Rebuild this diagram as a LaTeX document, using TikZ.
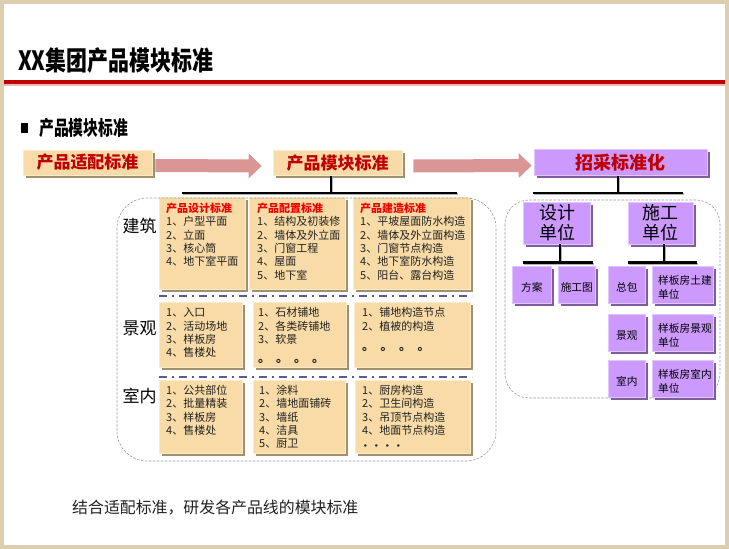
\documentclass[tikz,border=0pt]{standalone}
\usepackage{fontspec}
\setmainfont{Noto Sans CJK SC}
\usepackage{graphicx}
\usetikzlibrary{shadows,arrows.meta}
\definecolor{framec}{HTML}{DDCEB0}
\definecolor{titlered}{HTML}{C00000}
\definecolor{pinkline}{HTML}{EBB8B8}
\definecolor{cellyel}{HTML}{F8DBA6}
\definecolor{cellhi}{HTML}{FCEBCB}
\definecolor{yelsh}{HTML}{A0906E}
\definecolor{purp}{HTML}{CC99FF}
\definecolor{purphi}{HTML}{E2C6FF}
\definecolor{purpsh}{HTML}{7E5F9E}
\definecolor{arrowpink}{HTML}{D99694}
\definecolor{darkred}{HTML}{C00000}
\definecolor{headred}{HTML}{F00000}
\definecolor{sepblue}{HTML}{5B5B91}
\definecolor{txt}{HTML}{222222}
\definecolor{regiongray}{HTML}{9A9A9A}
\newcommand{\bigdots}{{\fontsize{12.5}{12.5}\selectfont\bfseries 。}}
\begin{document}
\begin{tikzpicture}[x=1pt,y=-1pt,
  ybox/.style={fill=cellyel, draw=cellhi, line width=0.6pt, inner sep=0pt,
     drop shadow={shadow xshift=2.5pt, shadow yshift=-2.5pt, fill=yelsh, opacity=1}},
  pbox/.style={fill=purp, draw=purphi, line width=0.6pt, inner sep=0pt,
     drop shadow={shadow xshift=2.5pt, shadow yshift=-2.5pt, fill=purpsh, opacity=1}},
  headbox/.style={ybox, font=\fontsize{17}{17}\selectfont\bfseries, text=darkred},
  cellbox/.style={ybox, anchor=north west},
  sbox/.style={pbox, anchor=north west, minimum height=37pt},
  celltxt/.style={anchor=north west, inner sep=0pt, align=left, text=txt, font=\fontsize{11}{13.3}\selectfont},
  stxt/.style={inner sep=0pt, align=left, text=black, font=\fontsize{10.7}{14}\selectfont},
  bigarrow/.style={draw=arrowpink, line width=13pt, -{Triangle[length=13pt,width=24pt]}},
  conn/.style={line width=2.2pt, draw=black, preaction={draw=gray!60, line width=2.2pt, transform canvas={xshift=1pt, yshift=-1.2pt}}},
  region/.style={draw=regiongray, line width=0.6pt, dash pattern=on 2.5pt off 1.5pt},
  sepline/.style={draw=sepblue, line width=2pt, dash pattern=on 8pt off 5pt on 2pt off 5pt},
  rowlab/.style={inner sep=0pt, font=\fontsize{17}{17}\selectfont, text=black},
]
% frame
\fill[framec] (0,0) rectangle (729,549);
\fill[white] (4,4) rectangle (725,545);
\useasboundingbox (0,0) rectangle (729,549);

% title
\node[anchor=west, inner sep=0pt] (title) at (18,60.5)
  {\scalebox{0.79}[1]{\fontsize{26.5}{26.5}\selectfont\bfseries XX集团产品模块标准}};
\fill[titlered] (4,80) rectangle (725,84);
\fill[pinkline] (4,84) rectangle (725,86);

% subtitle
\fill[black] (21,123) rectangle (28,133);
\node[anchor=west, inner sep=0pt] (sub) at (39,128)
  {\scalebox{0.74}[1]{\fontsize{20}{20}\selectfont\bfseries 产品模块标准}};

% top row
\node[headbox, minimum width=129pt, minimum height=25pt] (adapt) at (87.5,162.5) {产品适配标准};
\node[headbox, minimum width=129pt, minimum height=25pt] (module) at (337.5,163) {产品模块标准};
\node[pbox, font=\fontsize{18}{18}\selectfont\bfseries, text=darkred, minimum width=173pt, minimum height=26pt] (zc) at (620.5,162.5) {招采标准化};

\draw[bigarrow] ([xshift=3pt,yshift=-3pt]adapt.east) -- ([xshift=-11pt,yshift=-3pt]module.west);
\draw[bigarrow] ([xshift=11pt,yshift=-3pt]module.east) -- ([xshift=-2pt,yshift=-3pt]zc.west);

% connector bars
\coordinate (bLl) at (182,193);
\coordinate (bLr) at (457,193);
\coordinate (bLm) at (331,193);
\draw[conn] ([xshift=-6.5pt]module.south) -- (bLm);
\draw[conn] (bLl) -- (bLr);
\coordinate (bRl) at (533,193);
\coordinate (bRr) at (683,193);
\coordinate (bRm) at (618,193);
\draw[conn] ([xshift=-2.5pt]zc.south) -- (bRm);
\draw[conn] (bRl) -- (bRr);

% cells
\node[cellbox, minimum width=86pt, minimum height=92pt] (c11) at (159,197) {};
\node[cellbox, minimum width=96pt, minimum height=92pt] (c12) at (249,197) {};
\node[cellbox, minimum width=117pt, minimum height=92pt] (c13) at (353,197) {};
\node[cellbox, minimum width=83pt, minimum height=65pt] (c21) at (159,302) {};
\node[cellbox, minimum width=93pt, minimum height=65pt] (c22) at (253,302) {};
\node[cellbox, minimum width=116pt, minimum height=65pt] (c23) at (354,302) {};
\node[cellbox, minimum width=83pt, minimum height=73pt] (c31) at (159,380) {};
\node[cellbox, minimum width=92pt, minimum height=73pt] (c32) at (253,380) {};
\node[cellbox, minimum width=115pt, minimum height=73pt] (c33) at (355,380) {};

\node[celltxt] (t11) at (166,203) {\textcolor{headred}{\bfseries 产品设计标准}\\1、户型平面\\2、立面\\3、核心筒\\4、地下室平面};
\node[celltxt] (t12) at (257,203) {\textcolor{headred}{\bfseries 产品配置标准}\\1、结构及初装修\\2、墙体及外立面\\3、门窗工程\\4、屋面\\5、地下室};
\node[celltxt] (t13) at (360,203) {\textcolor{headred}{\bfseries 产品建造标准}\\1、平坡屋面防水构造\\2、墙体及外立面构造\\3、门窗节点构造\\4、地下室防水构造\\5、阳台、露台构造};
\node[celltxt] (t21) at (166,307.5) {1、入口\\2、活动场地\\3、样板房\\4、售楼处};
\node[celltxt] (t22) at (258,307.5) {1、石材铺地\\2、各类砖铺地\\3、软景\\[6pt]\bigdots\hspace{5.5pt}\bigdots\hspace{5.5pt}\bigdots\hspace{5.5pt}\bigdots};
\node[celltxt] (t23) at (362,307.5) {1、铺地构造节点\\2、植被的构造\\[7pt]\bigdots\hspace{6pt}\bigdots\hspace{6pt}\bigdots\hspace{6pt}\bigdots};
\node[celltxt] (t31) at (166,385) {1、公共部位\\2、批量精装\\3、样板房\\4、售楼处};
\node[celltxt] (t32) at (259,385) {1、涂料\\2、墙地面铺砖\\3、墙纸\\4、洁具\\5、厨卫};
\node[celltxt] (t33) at (362,385) {1、厨房构造\\2、卫生间构造\\3、吊顶节点构造\\4、地面节点构造\\{\bfseries ．．．．}};

% row labels
\node[rowlab] (l1) at (139.5,226) {建筑};
\node[rowlab] (l2) at (139.5,328) {景观};
\node[rowlab] (l3) at (139.5,396) {室内};

% separators
\draw[sepline] (159,296) -- (472,296);
\draw[sepline] (159,377) -- (472,377);

% regions
\draw[region, rounded corners=30pt] (117,198) rectangle (496,461);
\draw[region, rounded corners=24pt] (505,200) rectangle (720,398);

% right side
\node[pbox, minimum width=67pt, minimum height=42pt, align=center, font=\fontsize{18}{20}\selectfont] (sj) at (557,223) {设计\\单位};
\node[pbox, minimum width=65pt, minimum height=42pt, align=center, font=\fontsize{18}{20}\selectfont] (sg) at (660.5,223) {施工\\单位};

\coordinate (sjm) at (560,262.5);
\coordinate (sjl) at (523,262.5);
\coordinate (sjr) at (593,262.5);
\draw[conn] ([xshift=3pt]sj.south) -- (sjm);
\draw[conn] (sjl) -- (sjr);
\coordinate (sgm) at (664,262.5);
\coordinate (sgl) at (628,262.5);
\coordinate (sgr) at (697,262.5);
\draw[conn] ([xshift=3.5pt]sg.south) -- (sgm);
\draw[conn] (sgl) -- (sgr);

\node[sbox, minimum width=39pt] (fa) at (512,266) {};
\node[sbox, minimum width=37pt] (sgt) at (558,266) {};
\node[sbox, minimum width=37pt] (zb) at (608,266) {};
\node[sbox, minimum width=61pt] (tj) at (652,266) {};
\node[sbox, minimum width=37pt] (jg) at (608,314) {};
\node[sbox, minimum width=61pt] (jgu) at (652,314) {};
\node[sbox, minimum width=37pt] (sn) at (608,360) {};
\node[sbox, minimum width=61pt] (snu) at (652,360) {};

\node[stxt] (fat) at ([yshift=-2.5pt]fa.center) {方案};
\node[stxt] (sgtt) at ([yshift=-2.5pt]sgt.center) {施工图};
\node[stxt] (zbt) at ([yshift=-2.5pt]zb.center) {总包};
\node[stxt, anchor=west] (tjt) at ([xshift=6pt,yshift=-2.5pt]tj.west) {样板房土建\\单位};
\node[stxt] (jgt) at ([yshift=-2.5pt]jg.center) {景观};
\node[stxt, anchor=west] (jgut) at ([xshift=6pt,yshift=-2.5pt]jgu.west) {样板房景观\\单位};
\node[stxt] (snt) at ([yshift=-2.5pt]sn.center) {室内};
\node[stxt, anchor=west] (snut) at ([xshift=6pt,yshift=-2.5pt]snu.west) {样板房室内\\单位};

% note
\node[anchor=west, inner sep=0pt, font=\fontsize{15.9}{15.9}\selectfont, text=txt] (note) at (72,508) {结合适配标准，研发各产品线的模块标准};
\end{tikzpicture}
\end{document}
